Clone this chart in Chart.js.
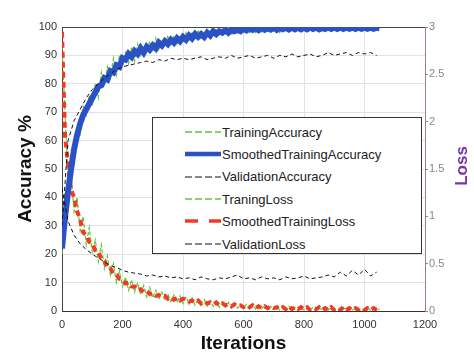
<!DOCTYPE html>
<html><head><meta charset="utf-8">
<script src="https://cdn.jsdelivr.net/npm/chart.js@4.4.0/dist/chart.umd.min.js"></script>
<style>
html,body{margin:0;padding:0;background:#fff;}
#wrap{position:relative;width:474px;height:355px;}
#legend{position:absolute;left:152px;top:117px;width:270px;height:137px;border:1px solid #333;background:#fff;box-sizing:border-box;font-family:"Liberation Sans",Arial,sans-serif;font-size:13px;color:#222;}
.item{position:absolute;left:32px;height:18px;display:flex;align-items:center;white-space:nowrap;}
.item svg{width:36px;height:10px;margin-right:1px;}
</style>
</head><body>
<div id="wrap">
<canvas id="c" width="474" height="355"></canvas>
<div id="legend"></div>
</div>
<script>
const xTitle = 'Iterations';
const yTitle = 'Accuracy %';
const y2Title = 'Loss';
const seriesLabels = ['TrainingAccuracy','SmoothedTrainingAccuracy','ValidationAccuracy','TraningLoss','SmoothedTrainingLoss','ValidationLoss'];
const xTicks = [0,200,400,600,800,1000,1200];

const iterTrain = [0,10,20,30,40,50,60,70,80,90,100,
110,120,130,140,150,160,170,180,190,200,
210,220,230,240,250,260,270,280,290,300,
310,320,330,340,350,360,370,380,390,400,
410,420,430,440,450,460,470,480,490,500,
510,520,530,540,550,560,570,580,590,600,
610,620,630,640,650,660,670,680,690,700,
710,720,730,740,750,760,770,780,790,800,
810,820,830,840,850,860,870,880,890,900,
910,920,930,940,950,960,970,980,990,1000,
1010,1020,1030,1040,1050];

const iterVal = [0,20,40,60,80,100,120,140,160,180,200,
220,240,260,280,300,320,340,360,380,400,
420,440,460,480,500,520,540,560,580,600,
620,640,660,680,700,720,740,760,780,800,
820,840,860,880,900,920,940,960,980,1000,
1020,1040];

const trainAcc = [20,34,40,53,55,63,62,72,69,76,72,
80,75,84,79,86,82,89,83,90,86,
91,87,93,88,94,90,93,91,95,92,
96,92,95,93,97,94,97,94,97,95,
98,95,98,96,99,96,98,97,98,97,
99,97,99,97,100,97,99,98,99,98,
100,98,99,98,100,98,100,98,100,99,
100,98,100,99,100,99,100,99,100,99,
100,99,100,99,100,98,100,99,100,99,
100,99,100,99,100,99,100,99,100,100,
99,100,99,100,100];

const smoothAcc = [22,33,42,50,57,62,66,69,71,73,75,
77,79,79.5,82,81.5,84.5,84,86.5,86,89,
88.5,90.5,89.5,91.5,90.5,92.5,91,93,92,93.5,
92.5,94.5,93.5,95,94,95.5,94.5,96,95,96.5,
95.5,97,96,97.5,96.5,97.5,96.5,98,97,98.5,
97.5,98.5,98,99,98,99,98.5,99,98.5,99.5,
98.8,99.6,99,99.6,98.9,99.7,99,99.6,99.1,99.7,
99,99.7,99.2,99.7,99.1,99.8,99.2,99.7,99.2,99.8,
99.2,99.8,99.3,99.8,99.2,99.8,99.3,99.8,99.3,99.8,
99.3,99.8,99.3,99.8,99.4,99.8,99.3,99.8,99.4,99.8,
99.4,99.8,99.4,99.8,99.5];

const valAcc = [30,60,67,71,75,78,80,82,83.5,85,86,
86.5,87,87.5,88,87.5,88.5,88,89,88.5,89,
88.5,89,89.5,88.5,89,89.5,89,90,89,89.5,
90,89,89.5,90,89,90,89.5,90.5,89.5,90,
90.5,89.5,90,91,90,90.5,91,90,91,90.5,
91,90];

const trainLoss = [2.8,2.1,1.4,1.45,1.05,1.2,0.85,1.0,0.7,0.88,0.62,
0.75,0.52,0.7,0.45,0.58,0.38,0.5,0.3,0.42,0.26,
0.36,0.22,0.33,0.2,0.3,0.17,0.27,0.15,0.25,0.14,
0.22,0.12,0.2,0.11,0.18,0.1,0.17,0.09,0.16,0.08,
0.15,0.07,0.14,0.06,0.13,0.06,0.12,0.05,0.11,0.05,
0.1,0.04,0.09,0.04,0.09,0.03,0.08,0.03,0.07,0.03,
0.07,0.02,0.07,0.02,0.06,0.02,0.06,0.02,0.05,0.02,
0.05,0.01,0.05,0.01,0.05,0.01,0.04,0.01,0.04,0.01,
0.04,0.01,0.04,0.01,0.04,0.01,0.04,0.01,0.03,0.01,
0.03,0.01,0.04,0.01,0.03,0.01,0.03,0.01,0.03,0.01,
0.03,0.01,0.03,0.01,0.02];

const smoothLoss = [2.95,1.85,1.55,1.28,1.2,1.05,0.97,0.83,0.8,0.73,0.71,
0.64,0.63,0.55,0.53,0.46,0.45,0.39,0.38,0.34,0.33,
0.29,0.3,0.26,0.26,0.22,0.23,0.2,0.21,0.18,0.19,
0.16,0.17,0.15,0.16,0.13,0.15,0.12,0.14,0.11,0.13,
0.12,0.1,0.11,0.09,0.11,0.08,0.1,0.08,0.09,0.07,
0.09,0.06,0.08,0.06,0.07,0.05,0.07,0.05,0.06,0.04,
0.06,0.04,0.06,0.03,0.05,0.03,0.05,0.03,0.05,0.03,
0.04,0.02,0.04,0.02,0.05,0.02,0.04,0.02,0.04,0.02,
0.04,0.01,0.03,0.02,0.04,0.01,0.03,0.01,0.04,0.01,
0.03,0.01,0.04,0.01,0.03,0.01,0.03,0.01,0.03,0.01,
0.03,0.01,0.03,0.01,0.02];

const valLoss = [1.3,0.95,0.8,0.71,0.65,0.6,0.56,0.52,0.48,0.46,0.43,
0.41,0.4,0.39,0.37,0.38,0.36,0.37,0.35,0.36,0.34,
0.35,0.33,0.36,0.34,0.33,0.35,0.34,0.36,0.38,0.34,
0.35,0.33,0.36,0.34,0.35,0.33,0.36,0.34,0.35,0.37,
0.34,0.35,0.36,0.38,0.36,0.41,0.37,0.43,0.38,0.44,
0.37,0.41];

function pts(xs, ys){ return xs.map((x,i)=>({x:x, y:ys[i]})); }

const GREEN = '#5cc83a', BLUE = '#2b52c4', RED = '#f23a22', BLACK = '#111';
const FONT = '"Liberation Sans", Arial, sans-serif';

const datasets = [
  {label:seriesLabels[0], data:pts(iterTrain,trainAcc), yAxisID:'y', borderColor:GREEN, borderWidth:1.2, borderDash:[4,2], order:3, legendDash:'7,3', legendWidth:1.3},
  {label:seriesLabels[1], data:pts(iterTrain,smoothAcc), yAxisID:'y', borderColor:BLUE, borderWidth:6, order:2, legendDash:'', legendWidth:4.5},
  {label:seriesLabels[2], data:pts(iterVal,valAcc), yAxisID:'y', borderColor:BLACK, borderWidth:1, borderDash:[4,3], order:1, legendDash:'7,3', legendWidth:1.2},
  {label:seriesLabels[3], data:pts(iterTrain,trainLoss), yAxisID:'y2', borderColor:GREEN, borderWidth:1.2, borderDash:[4,2], order:3, legendDash:'7,3', legendWidth:1.3},
  {label:seriesLabels[4], data:pts(iterTrain,smoothLoss), yAxisID:'y2', borderColor:RED, borderWidth:4, borderDash:[6,4], order:2, legendDash:'13,11', legendWidth:3.5},
  {label:seriesLabels[5], data:pts(iterVal,valLoss), yAxisID:'y2', borderColor:BLACK, borderWidth:1, borderDash:[4,3], order:1, legendDash:'7,3', legendWidth:1.2}
];
datasets.forEach(d=>{ d.pointRadius=0; d.fill=false; d.tension=0; });

const lossTitlePlugin = {
  id:'lossTitle',
  afterDraw(chart){
    const ctx = chart.ctx;
    ctx.save();
    ctx.translate(462, 166);
    ctx.rotate(-Math.PI/2);
    ctx.font = 'bold 17px ' + FONT;
    ctx.fillStyle = '#7a35a8';
    ctx.textAlign = 'center';
    ctx.textBaseline = 'middle';
    ctx.fillText(y2Title, 0, 0);
    ctx.restore();
  }
};

const plain = v => String(v);

const chart = new Chart(document.getElementById('c'), {
  type:'line',
  data:{datasets:datasets},
  plugins:[lossTitlePlugin],
  options:{
    responsive:false,
    animation:false,
    layout:{padding:{top:27,left:0,right:0,bottom:0}},
    plugins:{legend:{display:false}, tooltip:{enabled:false}},
    scales:{
      x:{type:'linear', position:'bottom', min:0, max:1200,
         afterBuildTicks:s=>{ s.ticks = xTicks.map(v=>({value:v})); },
         ticks:{color:'#333', font:{family:FONT,size:11}, padding:7, maxRotation:0, callback:plain},
         grid:{color:'#e2e2e2', drawTicks:false},
         border:{color:'#333', width:1},
         title:{display:true, text:xTitle, color:'#111', font:{family:FONT,size:19,weight:'bold'}, padding:{top:0,bottom:0}},
         afterFit:s=>{ s.height = 44; }},
      xTop:{type:'linear', position:'top', min:0, max:1200, display:true,
         ticks:{display:false}, grid:{drawOnChartArea:false, drawTicks:false},
         border:{color:'#444', width:1},
         afterFit:s=>{ s.height = 0; }},
      y:{type:'linear', position:'left', min:0, max:100,
         ticks:{stepSize:10, color:'#333', font:{family:FONT,size:11}, padding:5, callback:plain},
         grid:{color:'#e2e2e2', drawTicks:false},
         border:{color:'#444', width:1},
         title:{display:true, text:yTitle, color:'#111', font:{family:FONT,size:19,weight:'bold'}, padding:{top:14,bottom:0}},
         afterFit:s=>{ s.width = 62; }},
      y2:{type:'linear', position:'right', min:0, max:3,
         ticks:{stepSize:0.5, color:'#888', font:{family:FONT,size:11}, padding:1, callback:plain},
         grid:{drawOnChartArea:false, drawTicks:true, tickLength:3, color:'#b07878'},
         border:{color:'#b07878', width:1},
         afterFit:s=>{ s.width = 49; }}
    }
  }
});

// HTML legend built from the chart's datasets
const legend = document.getElementById('legend');
const rowCenters = [14,36,58.5,81,103,126];
chart.data.datasets.forEach((d,i)=>{
  const item = document.createElement('div');
  item.className = 'item';
  item.style.top = (rowCenters[i]-9) + 'px';
  const dash = d.legendDash ? ' stroke-dasharray="'+d.legendDash+'"' : '';
  item.innerHTML = '<svg viewBox="0 0 36 10"><line x1="0" y1="5" x2="36" y2="5" stroke="'+d.borderColor+'" stroke-width="'+d.legendWidth+'"'+dash+'/></svg>';
  const span = document.createElement('span');
  span.textContent = d.label;
  item.appendChild(span);
  legend.appendChild(item);
});
</script>
</body></html>
